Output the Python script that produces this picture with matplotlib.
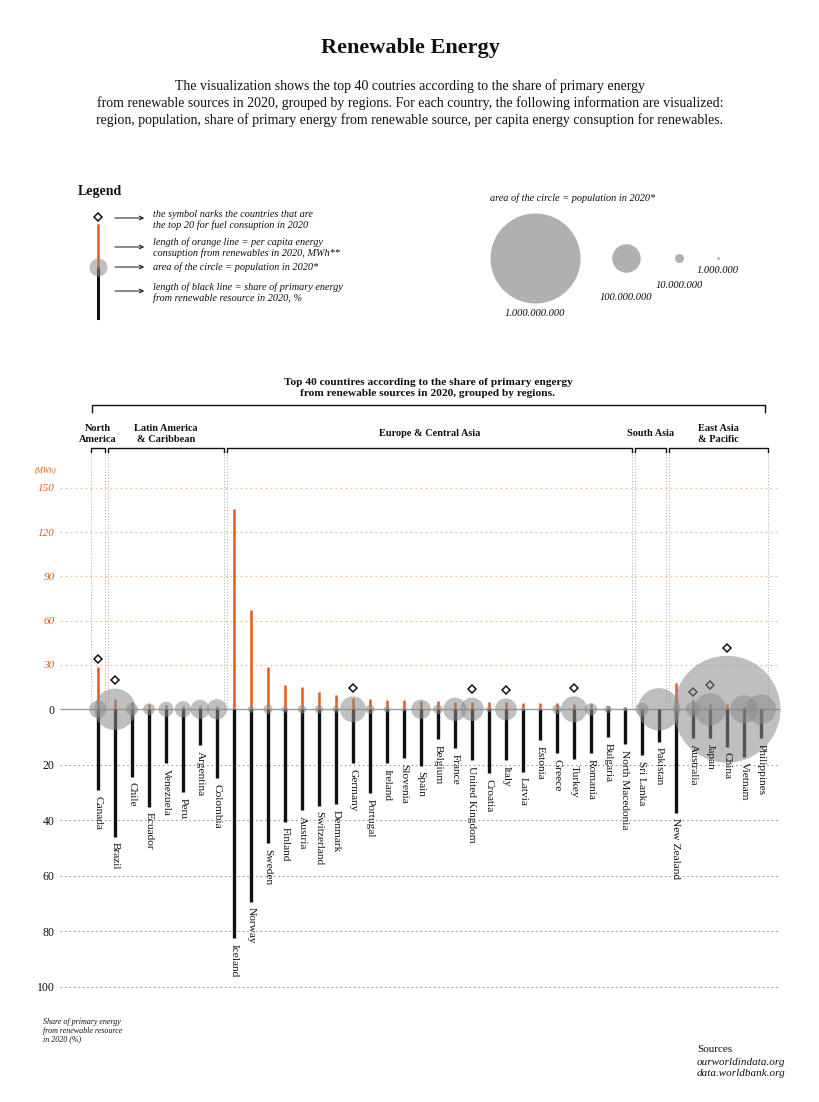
"""Renewable energy: top 40 countries by share of primary energy from renewables (2020)."""

import matplotlib

matplotlib.use("Agg")
import matplotlib.pyplot as plt
from matplotlib import transforms
from matplotlib.patches import FancyArrowPatch

W, H = 820, 1102

COLORS = {
    "orange": "#e55b17",
    "orange_grid": "#f2b990",
    "grid": "#9a9a9a",
    "bubble": "#8c8c8c",
    "dark": "#111111",
}

SERIF = ["Liberation Serif", "DejaVu Serif"]
plt.rcParams["font.family"] = SERIF

countries = [
    "Canada", "Brazil", "Chile", "Ecuador", "Venezuela", "Peru", "Argentina", "Colombia",
    "Iceland", "Norway", "Sweden", "Finland", "Austria", "Switzerland", "Denmark", "Germany",
    "Portugal", "Ireland", "Slovenia", "Spain", "Belgium", "France", "United Kingdom", "Croatia",
    "Italy", "Latvia", "Estonia", "Greece", "Turkey", "Romania", "Bulgaria", "North Macedonia",
    "Sri Lanka", "Pakistan", "New Zealand", "Australia", "Japan", "China", "Vietnam", "Philippines",
]
# share of primary energy from renewables, %
share = [
    29.1, 45.9, 24.3, 35.1, 19.5, 29.9, 12.9, 24.9,
    82.5, 69.3, 48.3, 40.5, 36.3, 34.7, 34.2, 19.5,
    30.3, 19.5, 17.7, 20.4, 10.7, 14.1, 18.3, 23.1,
    18.3, 22.5, 11.1, 15.9, 18.0, 15.9, 10.1, 12.5,
    16.5, 11.7, 37.3, 10.5, 10.5, 13.5, 17.1, 10.5,
]
# per capita energy consumption from renewables, MWh
per_capita = [
    28.4, 7.0, 5.0, 3.6, 2.7, 2.2, 2.4, 2.2,
    135.4, 67.2, 28.8, 16.2, 14.9, 11.9, 9.7, 7.4,
    7.3, 6.3, 6.3, 5.8, 5.4, 5.2, 5.2, 4.7,
    4.7, 4.5, 4.1, 4.1, 3.8, 3.8, 2.5, 1.4,
    1.2, 0.5, 18.0, 6.3, 3.8, 3.8, 2.3, 1.2,
]
# population 2020, millions
population = [
    38, 212, 19, 17.6, 28, 33, 45, 51,
    0.37, 5.4, 10.4, 5.5, 8.9, 8.6, 5.8, 83,
    10.3, 5.0, 2.1, 47, 11.5, 67, 67, 4.0,
    59, 1.9, 1.3, 10.7, 84, 19.3, 6.9, 2.1,
    21.9, 221, 5.1, 25.7, 126, 1411, 97, 110,
]
top20_fuel = ["Canada", "Brazil", "Germany", "United Kingdom", "Italy", "Turkey",
              "Australia", "Japan", "China"]

regions = ["North\nAmerica", "Latin America\n& Caribbean", "Europe & Central Asia",
           "South Asia", "East Asia\n& Pacific"]
region_sizes = [1, 7, 24, 2, 6]

share_ticks = [20, 40, 60, 80, 100]
mwh_ticks = [30, 60, 90, 120, 150]
legend_pops = [1000, 100, 10, 1]  # millions
legend_pop_labels = ["1.000.000.000", "100.000.000", "10.000.000", "1.000.000"]

# 1 billion people -> circle 90 px wide
D_BILLION_PT = 90 * 72 / 100


def fx(px):
    return px / W


def fy(py):
    return 1 - py / H


def bubble_size(pop_m):
    return D_BILLION_PT ** 2 * pop_m / 1000.0


fig = plt.figure(figsize=(W / 100, H / 100), dpi=100)
fig.patch.set_facecolor("white")

# ---- titles
fig.text(0.5, fy(48), "Renewable Energy", ha="center", va="center",
         fontsize=16, fontweight="bold", color=COLORS["dark"])
subtitle = (
    "The visualization shows the top 40 coutries according to the share of primary energy\n"
    "from renewable sources in 2020, grouped by regions. For each country, the following information are visualized:\n"
    "region, population, share of primary energy from renewable source, per capita energy consuption for renewables."
)
fig.text(0.5, fy(103), subtitle, ha="center", va="center", fontsize=10,
         linespacing=1.3, color=COLORS["dark"])

# ---- legend (left)
fig.text(fx(78), fy(192), "Legend", ha="left", va="center", fontsize=10,
         fontweight="bold", color=COLORS["dark"])
lx = fx(98)
fig.add_artist(plt.Line2D([lx, lx], [fy(267), fy(318)], color=COLORS["dark"], lw=2.2))
fig.add_artist(plt.Line2D([lx, lx], [fy(225), fy(267)], color=COLORS["orange"], lw=1.8))
fig.add_artist(plt.Line2D([lx], [fy(217)], marker="D", markersize=4.5, mfc="white",
                          mec=COLORS["dark"], mew=1.1, ls="none"))
fig.add_artist(plt.Line2D([lx], [fy(267)], marker="o", markersize=18 * 0.72, ls="none",
                          mfc=COLORS["bubble"], mec="none", alpha=0.55))
legend_items = [
    (218, 220, "the symbol narks the countries that are\nthe top 20 for fuel consuption in 2020"),
    (247, 248, "length of orange line = per capita energy\nconsuption from renewables in 2020, MWh**"),
    (267, 267, "area of the circle = population in 2020*"),
    (291, 293, "length of black line = share of primary energy\nfrom renewable resource in 2020, %"),
]
for ay, ty, txt in legend_items:
    fig.add_artist(FancyArrowPatch((fx(112), fy(ay)), (fx(147), fy(ay)),
                                   transform=fig.transFigure, arrowstyle="->",
                                   mutation_scale=7, lw=0.7, color=COLORS["dark"]))
    fig.text(fx(153), fy(ty), txt, ha="left", va="center", fontsize=7.4,
             style="italic", linespacing=1.15, color=COLORS["dark"])

# ---- legend (circle sizes)
fig.text(fx(490), fy(198), "area of the circle = population in 2020*", ha="left",
         va="center", fontsize=7.4, style="italic", color=COLORS["dark"])
leg_x = [535, 626, 679, 718]
leg_label_y = [314, 298, 285, 270]
for px, pop, lab, ly in zip(leg_x, legend_pops, legend_pop_labels, leg_label_y):
    fig.add_artist(plt.Line2D([fx(px)], [fy(258)], marker="o", ls="none",
                              markersize=D_BILLION_PT * (pop / 1000) ** 0.5,
                              mfc="#b0b0b0", mec="none"))
    fig.text(fx(px), fy(ly), lab, ha="center", va="center", fontsize=7.6,
             style="italic", color=COLORS["dark"])
fig.add_artist(FancyArrowPatch((fx(490), fy(258)), (fx(580), fy(258)),
                               transform=fig.transFigure, arrowstyle="<->",
                               mutation_scale=7, lw=0.8, color="#333333"))

# ---- chart title
fig.text(fx(428), fy(388),
         "Top 40 countires according to the share of primary engergy\n"
         "from renewable sources in 2020, grouped by regions.",
         ha="center", va="center", fontsize=8.2, fontweight="bold", linespacing=1.25,
         color=COLORS["dark"])

# ---- main axes
AX_L, AX_R, AX_T, AX_B = 60, 782, 448, 1005
ZERO = 709.3
PX_PER_PCT = 2.775
PX_PER_MWH = 1.4767
X0, DX = 98, 17

ax = fig.add_axes([fx(AX_L), fy(AX_B), (AX_R - AX_L) / W, (AX_B - AX_T) / H])
ax2 = ax.twinx()
ax.set_zorder(ax2.get_zorder() + 1)
ax.patch.set_visible(False)

ax.set_xlim((AX_L - X0) / DX, (AX_R - X0) / DX)
ax.set_ylim(-(AX_B - ZERO) / PX_PER_PCT, (ZERO - AX_T) / PX_PER_PCT)
ax2.set_ylim(-(AX_B - ZERO) / PX_PER_MWH, (ZERO - AX_T) / PX_PER_MWH)

for a in (ax, ax2):
    for sp in a.spines.values():
        sp.set_visible(False)
    a.tick_params(length=0)
ax.set_xticks([])

x = list(range(len(countries)))
xmin, xmax = ax.get_xlim()
xg0 = xmin
xg1 = (780 - X0) / DX

# grid lines
ax2.hlines(mwh_ticks, xg0, xg1, colors=COLORS["orange_grid"], lw=0.9, linestyles=(0, (1.5, 2.5)))
ax.hlines([-t for t in share_ticks], xg0, xg1, colors="#a0a0a0", lw=0.8,
          linestyles=(0, (1.5, 2.5)))
ax.hlines(0, xg0, xg1, colors="#9a9a9a", lw=1.0, zorder=1)

# ticks
ax.set_yticks([0] + [-t for t in share_ticks])
ax.set_yticklabels(["0"] + [str(t) for t in share_ticks], fontsize=8.5)
ax.tick_params(axis="y", pad=4, colors=COLORS["dark"])
ax2.yaxis.tick_left()
ax2.set_yticks(mwh_ticks)
ax2.set_yticklabels([str(t) for t in mwh_ticks], fontsize=8, style="italic",
                    color=COLORS["orange"])
ax2.tick_params(axis="y", pad=4)
ax2.text(-0.005, 162, "(MWh)", transform=transforms.blended_transform_factory(ax.transAxes, ax2.transData),
         ha="right", va="center", fontsize=5.5, style="italic", color=COLORS["orange"])

# region dashed separators and brackets
br = transforms.blended_transform_factory(ax.transData, fig.transFigure)
start = 0
for name, n in zip(regions, region_sizes):
    left, right = start - 0.41, start + n - 1 + 0.42
    for xv in (left, right):
        ax.vlines(xv, 0, ax.get_ylim()[1], colors="#b5b5b5", lw=0.7,
                  linestyles=(0, (1.2, 1.8)), zorder=0)
    fig.add_artist(plt.Line2D([left, left, right, right],
                              [fy(452), fy(448), fy(448), fy(452)],
                              transform=br, color=COLORS["dark"], lw=1.0))
    fig.text((left + right) / 2, fy(434), name, transform=br, ha="center",
             va="center", fontsize=7.4, fontweight="bold", linespacing=1.2,
             color=COLORS["dark"])
    start += n
top_l, top_r = -0.37, len(countries) - 1 + 0.25
fig.add_artist(plt.Line2D([top_l, top_l, top_r, top_r],
                          [fy(412), fy(405), fy(405), fy(412)],
                          transform=br, color=COLORS["dark"], lw=1.0))

# orange bars (per capita MWh)
ax2.vlines(x, 0, per_capita, colors=COLORS["orange"], lw=1.8)
# black bars (share)
ax.vlines(x, [-s for s in share], 0, colors=COLORS["dark"], lw=2.4, zorder=2)
# population bubbles
ax.scatter(x, [0] * len(x), s=[bubble_size(p) for p in population],
           color=COLORS["bubble"], alpha=0.55, lw=0, zorder=3)

# diamonds for top-20 fuel consumers
for i, name in enumerate(countries):
    if name not in top20_fuel:
        continue
    r_pt = D_BILLION_PT * (population[i] / 1000) ** 0.5 / 2
    bar_pt = per_capita[i] * PX_PER_MWH * 0.72
    off = max(r_pt, bar_pt) + 6
    tr = transforms.offset_copy(ax2.transData, fig=fig, x=0, y=off, units="points")
    ax2.plot([i], [0], transform=tr, marker="D", markersize=4.5, mfc="white",
             mec=COLORS["dark"], mew=1.1, ls="none", clip_on=False)

# country labels
for i, name in enumerate(countries):
    ax.annotate(name, (i, -share[i]), xytext=(0, -4), textcoords="offset points",
                rotation=-90, ha="center", va="top", fontsize=8.2, color=COLORS["dark"])

# axis note and sources
fig.text(fx(43), fy(1031), "Share of primary energy\nfrom renewable resource\nin 2020 (%)",
         ha="left", va="center", fontsize=5.8, style="italic", linespacing=1.1,
         color=COLORS["dark"])
fig.text(fx(697), fy(1049), "Sources", ha="left", va="center", fontsize=8,
         color=COLORS["dark"])
fig.text(fx(697), fy(1068), "ourworldindata.org\ndata.worldbank.org", ha="left",
         va="center", fontsize=8, style="italic", linespacing=1.2, color=COLORS["dark"])

fig.savefig("out.png", dpi=100)
